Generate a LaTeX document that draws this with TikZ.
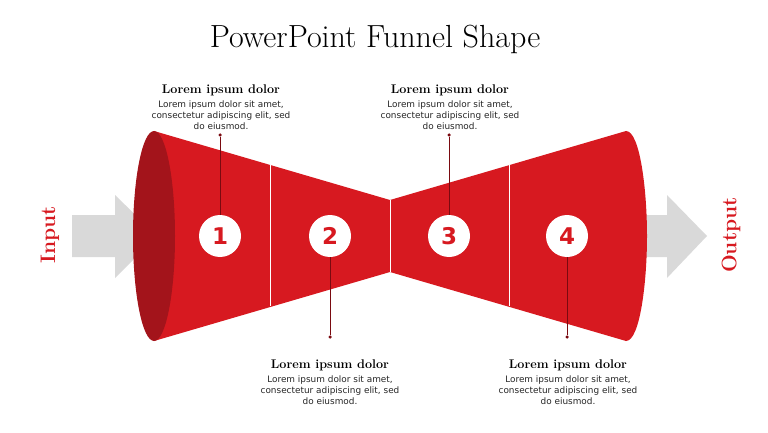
\documentclass[tikz,border=0pt]{standalone}
\usepackage{fontspec}
\newfontfamily\bodyfont{DejaVu Sans}
\definecolor{fred}{HTML}{D71920}
\definecolor{fdark}{HTML}{A3141B}
\definecolor{fline}{HTML}{7A0A10}
\definecolor{fgray}{HTML}{D9D9D9}
\begin{document}
\begin{tikzpicture}[x=1pt,y=-1pt,
  num/.style={circle,fill=white,minimum size=42pt,inner sep=0pt,text=fred,font=\bodyfont\bfseries\fontsize{23}{23}\selectfont},
  head/.style={font=\bfseries\fontsize{12.6}{14}\selectfont},
  body/.style={font=\bodyfont\fontsize{8.9}{11}\selectfont,align=center,text=black!85},
  lead/.style={fline,line width=0.8pt},
  dotc/.style={circle,fill=fline,inner sep=0pt,minimum size=3.5pt}]
\useasboundingbox (0,0) rectangle (768,433);
\node (title) at (375,39) {\fontsize{32}{36}\selectfont PowerPoint Funnel Shape};
% arrows
\fill[fgray] (72,215) -- (115,215) -- (115,195) -- (157,236) -- (115,278) -- (115,257) -- (72,257) -- cycle;
\fill[fgray] (640,215) -- (667,215) -- (667,195) -- (707,236) -- (667,278) -- (667,257) -- (640,257) -- cycle;
% funnel
\fill[fred] (154,131) -- (390,200) -- (626,131) .. controls (640,131) and (647,190) .. (647,236) .. controls (647,282) and (640,341) .. (626,341) -- (390,272) -- (154,341) -- cycle;
\fill[fdark] (154,236) ellipse[x radius=21,y radius=105];
\draw[white,line width=1pt] (270,165) -- (270,306);
\draw[white,line width=1pt] (390,200) -- (390,272);
\draw[white,line width=1pt] (509,165) -- (509,306);
% numbers
\node[num] (n1) at (220,236) {1};
\node[num] (n2) at (330,236) {2};
\node[num] (n3) at (449,236) {3};
\node[num] (n4) at (567,236) {4};
\node[dotc] (d1) at (220,135) {};
\node[dotc] (d2) at (330,337) {};
\node[dotc] (d3) at (449,135) {};
\node[dotc] (d4) at (567,337) {};
\draw[lead] (d1) -- (n1); \draw[lead] (n2) -- (d2);
\draw[lead] (d3) -- (n3); \draw[lead] (n4) -- (d4);
% texts
\node[head] (h1) at (221,90) {Lorem ipsum dolor};
\node[body] (b1) at (221,115) {Lorem ipsum dolor sit amet,\\consectetur adipiscing elit, sed\\do eiusmod.};
\node[head] (h3) at (450,90) {Lorem ipsum dolor};
\node[body] (b3) at (450,115) {Lorem ipsum dolor sit amet,\\consectetur adipiscing elit, sed\\do eiusmod.};
\node[head] (h2) at (330,365) {Lorem ipsum dolor};
\node[body] (b2) at (330,390) {Lorem ipsum dolor sit amet,\\consectetur adipiscing elit, sed\\do eiusmod.};
\node[head] (h4) at (568,365) {Lorem ipsum dolor};
\node[body] (b4) at (568,390) {Lorem ipsum dolor sit amet,\\consectetur adipiscing elit, sed\\do eiusmod.};
\node[rotate=90,text=fred,font=\bfseries\fontsize{21}{22}\selectfont] (in) at (50,235) {Input};
\node[rotate=90,text=fred,font=\bfseries\fontsize{21}{22}\selectfont] (out) at (731,235) {Output};
\end{tikzpicture}
\end{document}
